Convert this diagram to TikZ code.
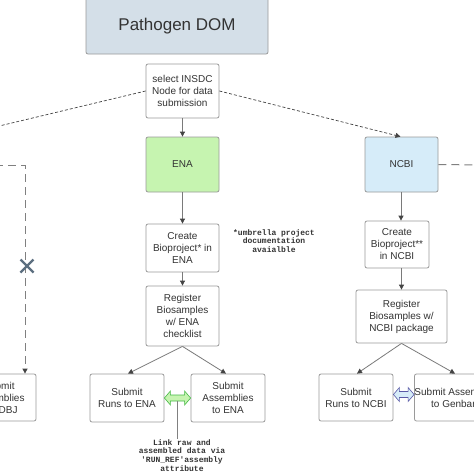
\documentclass[tikz,border=0pt]{standalone}
\usepackage{fontspec}
\setmainfont{Liberation Sans}
\newfontfamily\notefont{Liberation Mono}
\usetikzlibrary{arrows.meta,calc}
\definecolor{txt}{HTML}{333333}
\definecolor{boxline}{HTML}{9A9A9A}
\definecolor{domfill}{HTML}{D4DFE8}
\definecolor{enafill}{HTML}{C6F4B0}
\definecolor{ncbifill}{HTML}{D6ECF9}
\definecolor{conn}{HTML}{444444}
\definecolor{connline}{HTML}{7A7A7A}
\definecolor{xmark}{HTML}{5C6F80}
\tikzset{
  box/.style={draw=boxline, line width=0.8pt, rounded corners=2pt, fill=white,
    align=center, font=\fontsize{10}{12}\selectfont, text=txt, inner sep=0pt},
  arr/.style={draw=connline, line width=0.8pt, -{Triangle[length=5pt,width=5pt,color=conn]}},
  sdash/.style={draw=conn, line width=0.7pt, dash pattern=on 3pt off 2pt},
  ldash/.style={draw=gray, line width=1pt, dash pattern=on 8pt off 5pt},
  note/.style={align=center, font=\notefont\bfseries\fontsize{8}{8.7}\selectfont, text=txt, inner sep=0pt},
}
\begin{document}
\begin{tikzpicture}[x=1pt, y=-1pt]
\useasboundingbox (0,0) rectangle (474,474);
\clip (0,0) rectangle (474,474);
\fill[white] (0,0) rectangle (474,474);

\node[box, fill=domfill, minimum width=182pt, minimum height=56pt, font=\fontsize{17}{20}\selectfont] (dom) at (177,26) {Pathogen DOM};
\node[box, minimum width=73pt, minimum height=54pt] (sel) at (182.5,91) {select INSDC\\Node for data\\submission};
\node[box, fill=enafill, minimum width=73pt, minimum height=55pt] (ena) at (182.5,164.5) {ENA};
\node[box, fill=ncbifill, minimum width=73pt, minimum height=55pt] (ncbi) at (401.5,164.5) {NCBI};
\node[box, minimum width=73pt, minimum height=48pt] (cena) at (182.5,248) {Create\\Bioproject* in\\ENA};
\node[box, minimum width=73pt, minimum height=60pt] (rena) at (182.5,316) {Register\\Biosamples\\w/ ENA\\checklist};
\node[box, minimum width=64pt, minimum height=47pt] (cncbi) at (397,244.5) {Create\\Bioproject**\\in NCBI};
\node[box, minimum width=91pt, minimum height=53pt] (rncbi) at (401.5,316.5) {Register\\Biosamples w/\\NCBI package};
\node[box, minimum width=74pt, minimum height=48pt] (runena) at (127,398) {Submit\\Runs to ENA};
\node[box, minimum width=74pt, minimum height=48pt] (asmena) at (228,398) {Submit\\Assemblies\\to ENA};
\node[box, minimum width=74pt, minimum height=47pt] (runncbi) at (356,397.5) {Submit\\Runs to NCBI};
\node[box, minimum width=74pt, minimum height=47pt] (asmncbi) at (457,397.5) {Submit Assemblies\\to Genbank};
\node[box, minimum width=74pt, minimum height=47pt] (ddbj) at (-1,397.5) {Submit\\Assemblies\\to DDBJ};

\node[note] (umb) at (274,241) {*umbrella project\\documentation\\avaialble};
\node[note, anchor=north] (link) at (182,439) {Link raw and\\assembled data via\\'RUN\_REF'assembly\\attribute};

% solid connectors
\draw[arr] (sel.south) -- (ena.north);
\draw[arr] (ena.south) -- (cena.north);
\draw[arr] (cena.south) -- (rena.north);
\draw[arr] (ncbi.south -| cncbi.north) ++(4,0) coordinate (nb) -- (nb |- cncbi.north);
\draw[arr] (rncbi.north |- cncbi.south) -- (rncbi.north);
\draw[arr] (rena.south) -- ($(runena.north)+(1,0)$);
\draw[arr] (rena.south) -- ($(asmena.north)+(-2,0)$);
\draw[arr] (rncbi.south) -- ($(runncbi.north)+(1,0)$);
\draw[arr] (rncbi.south) -- ($(asmncbi.north)+(-2,0)$);

% dashed connectors
\coordinate (lend) at (-5,127);
\draw[sdash] (sel.west) -- (lend);
\draw[sdash, -{Triangle[length=5pt,width=5pt]}] (sel.east) -- ($(ncbi.north)+(-1,0)$);
\coordinate (rend) at (480,165);
\draw[ldash] (ncbi.east) -- (rend);
\coordinate (l0) at (-5,165);
\coordinate (lc) at (25,165);
\draw[ldash, -{Triangle[length=5pt,width=5pt,color=conn]}] (l0) -- (lc) -- (lc |- ddbj.north);
\draw[xmark, line width=2.2pt] (20.5,259.5) -- (33.5,272.5) (20.5,272.5) -- (33.5,259.5);

% double block arrows
\coordinate (ga) at (runena.east);
\coordinate (gb) at (asmena.west);
\draw[draw=green!45!gray, fill=enafill, line width=0.6pt]
  (ga) -- ++(6,-7) -- ++(0,4) -- ($(gb)+(-6,-3)$) -- ++(0,-4) -- (gb)
  -- ++(-6,7) -- ++(0,-4) -- ($(ga)+(6,3)$) -- ++(0,4) -- cycle;
\coordinate (gm) at ($(ga)!0.5!(gb)+(0,3)$);
\draw[draw=gray, line width=0.8pt] (gm) -- (gm |- link.north);
\coordinate (ba) at ($(runncbi.east)+(0,-3)$);
\coordinate (bb) at ($(asmncbi.west)+(0,-3)$);
\draw[draw=blue!30!gray, fill=ncbifill, line width=0.6pt]
  (ba) -- ++(6,-7) -- ++(0,4) -- ($(bb)+(-6,-3)$) -- ++(0,-4) -- (bb)
  -- ++(-6,7) -- ++(0,-4) -- ($(ba)+(6,3)$) -- ++(0,4) -- cycle;
\end{tikzpicture}
\end{document}
